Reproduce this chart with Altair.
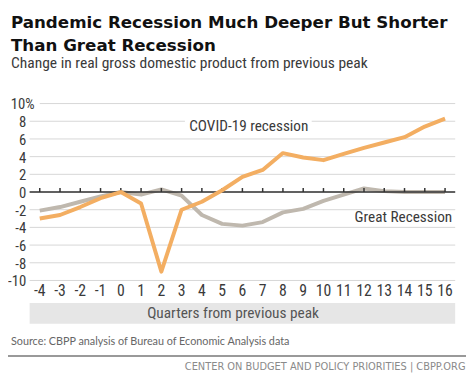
import altair as alt
import pandas as pd

# ---------------- data ----------------
QUARTERS = list(range(-4, 17))
COVID = [-3.0, -2.6, -1.7, -0.7, 0.0, -1.3, -9.0, -2.0, -1.1, 0.2, 1.7, 2.5,
         4.4, 3.9, 3.6, 4.3, 5.0, 5.6, 6.2, 7.4, 8.3]
GREAT = [-2.1, -1.7, -1.1, -0.5, 0.0, -0.3, 0.3, -0.4, -2.6, -3.6, -3.8, -3.4,
         -2.3, -1.9, -1.0, -0.3, 0.4, 0.1, 0.0, 0.0, 0.0]
Y_TICKS = [-10, -8, -6, -4, -2, 0, 2, 4, 6, 8]
Y_LABELS = ["-10", "-8", "-6", "-4", "-2", "0", "2", "4", "6", "8"]
Y_TOP = [10]
Y_TOP_LABEL = ["10%"]
X_LABELS = [str(q) for q in QUARTERS]

TITLE_1 = "Pandemic Recession Much Deeper But Shorter"
TITLE_2 = "Than Great Recession"
SUBTITLE = "Change in real gross domestic product from previous peak"
X_TITLE = "Quarters from previous peak"
COVID_LABEL = "COVID-19 recession"
GREAT_LABEL = "Great Recession"
SOURCE = "Source: CBPP analysis of Bureau of Economic Analysis data"
FOOTER = "CENTER ON BUDGET AND POLICY PRIORITIES | CBPP.ORG"

# ---------------- style ----------------
W, H = 433, 180
ORANGE = "#F3AE62"
GRAY = "#BFB8AE"
GRID = "#d6d6d6"
TXT = "#3a3a3a"
NARROW = "Liberation Sans Narrow, Roboto Condensed, Arial Narrow, sans-serif"
BOLD = "DejaVu Sans, sans-serif"
REG = "Lato, Inter, sans-serif"
WIDE = "DejaVu Sans, sans-serif"

xs = alt.Scale(domain=[-4.5, 16.5], nice=False, zero=False)
ys = alt.Scale(domain=[-10, 10], nice=False, zero=False)

grid_df = pd.DataFrame({
    "v": Y_TICKS + Y_TOP,
    "x0": [-4.5] * len(Y_TICKS) + [-4.0],
    "x1": [16.5] * (len(Y_TICKS) + 1),
})
grid = alt.Chart(grid_df).mark_rule(color=GRID, strokeWidth=1).encode(
    x=alt.X("x0:Q", scale=xs, axis=None), x2="x1:Q",
    y=alt.Y("v:Q", scale=ys, axis=None))

great_df = pd.DataFrame({"q": QUARTERS, "v": GREAT})
covid_df = pd.DataFrame({"q": QUARTERS, "v": COVID})

great_line = alt.Chart(great_df).mark_line(color=GRAY, strokeWidth=4, strokeJoin="round").encode(
    x=alt.X("q:Q", scale=xs, axis=None), y=alt.Y("v:Q", scale=ys, axis=None))
covid_line = alt.Chart(covid_df).mark_line(color=ORANGE, strokeWidth=4, strokeJoin="round").encode(
    x=alt.X("q:Q", scale=xs, axis=None), y=alt.Y("v:Q", scale=ys, axis=None))

zero = alt.Chart(pd.DataFrame({"v": [0], "x0": [-4.5], "x1": [16.5]})).mark_rule(
    color="#333333", strokeWidth=1.5).encode(
    x=alt.X("x0:Q", scale=xs, axis=None), x2="x1:Q", y=alt.Y("v:Q", scale=ys, axis=None))

ticks_df = pd.DataFrame({"q": QUARTERS, "y0": [0] * len(QUARTERS), "y1": [0.45] * len(QUARTERS)})
ticks = alt.Chart(ticks_df).mark_rule(color="#333333", strokeWidth=1.5).encode(
    x=alt.X("q:Q", scale=xs, axis=None), y=alt.Y("y0:Q", scale=ys, axis=None), y2="y1:Q")

ylab = alt.Chart(pd.DataFrame({"v": Y_TICKS, "t": Y_LABELS})).mark_text(
    font=NARROW, fontSize=15, color=TXT, align="right", baseline="alphabetic", dy=6).encode(
    x=alt.value(-3.5), y=alt.Y("v:Q", scale=ys, axis=None), text="t:N")
ylab_top = alt.Chart(pd.DataFrame({"v": Y_TOP, "t": Y_TOP_LABEL})).mark_text(
    font=NARROW, fontSize=15, color=TXT, align="right", baseline="alphabetic", dy=6).encode(
    x=alt.value(5), y=alt.Y("v:Q", scale=ys, axis=None), text="t:N")

xlab = alt.Chart(pd.DataFrame({"q": QUARTERS, "t": X_LABELS})).mark_text(
    font=NARROW, fontSize=16, color=TXT, align="center", baseline="alphabetic").encode(
    x=alt.X("q:Q", scale=xs, axis=None), y=alt.value(196), text="t:N")

band = alt.Chart(pd.DataFrame({"t": [X_TITLE]})).mark_rect(color="#e6e6e6").encode(
    x=alt.value(0), x2=alt.value(W), y=alt.value(203), y2=alt.value(224))
xtitle = alt.Chart(pd.DataFrame({"t": [X_TITLE]})).mark_text(
    font=NARROW, fontSize=15.6, color="#555555", align="center", baseline="alphabetic").encode(
    x=alt.value(207), y=alt.value(218.5), text="t:N")

covid_bg = alt.Chart(pd.DataFrame({"t": [COVID_LABEL]})).mark_rect(color="white").encode(
    x=alt.value(158), x2=alt.value(287), y=alt.value(12), y2=alt.value(32))
covid_txt = alt.Chart(pd.DataFrame({"t": [COVID_LABEL]})).mark_text(
    font=NARROW, fontSize=15.5, color=TXT, align="center", baseline="alphabetic").encode(
    x=alt.value(223), y=alt.value(28), text="t:N")
great_txt = alt.Chart(pd.DataFrame({"t": [GREAT_LABEL]})).mark_text(
    font=NARROW, fontSize=15.5, color=TXT, align="right", baseline="alphabetic").encode(
    x=alt.value(430), y=alt.value(121), text="t:N")

title1 = alt.Chart(pd.DataFrame({"t": [TITLE_1]})).mark_text(
    font=BOLD, fontSize=17, fontWeight="bold", color="#111111", align="left", baseline="alphabetic").encode(
    x=alt.value(-19), y=alt.value(-77), text="t:N")
title2 = alt.Chart(pd.DataFrame({"t": [TITLE_2]})).mark_text(
    font=BOLD, fontSize=17, fontWeight="bold", color="#111111", align="left", baseline="alphabetic").encode(
    x=alt.value(-19), y=alt.value(-53.7), text="t:N")
subtitle = alt.Chart(pd.DataFrame({"t": [SUBTITLE]})).mark_text(
    font=NARROW, fontSize=15.8, color=TXT, align="left", baseline="alphabetic").encode(
    x=alt.value(-19), y=alt.value(-36.3), text="t:N")

source = alt.Chart(pd.DataFrame({"t": [SOURCE]})).mark_text(
    font=REG, fontSize=11, color="#666666", align="left", baseline="alphabetic").encode(
    x=alt.value(-19), y=alt.value(245.3), text="t:N")
sep = alt.Chart(pd.DataFrame({"t": [FOOTER]})).mark_rule(color="#999999", strokeWidth=2).encode(
    x=alt.value(-22), x2=alt.value(444), y=alt.value(256.8))
footer = alt.Chart(pd.DataFrame({"t": [FOOTER]})).mark_text(
    font=WIDE, fontSize=10, color="#8a8a8a", align="right", baseline="alphabetic").encode(
    x=alt.value(443.5), y=alt.value(271.3), text="t:N")

chart = alt.layer(
    grid, great_line, zero, ticks, covid_line,
    ylab, ylab_top, xlab, band, xtitle, covid_bg, covid_txt, great_txt,
    title1, title2, subtitle, source, sep, footer,
).properties(
    width=W, height=H,
    padding={"left": 22, "top": 94, "right": 11, "bottom": 96},
    autosize=alt.AutoSizeParams(type="none"),
).configure_view(stroke=None)

chart.save("out.html", embed_options={"renderer": "svg", "actions": False})
